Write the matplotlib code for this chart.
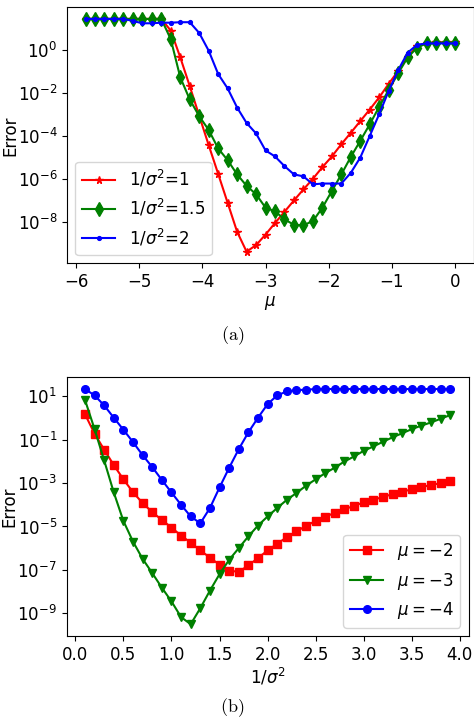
import numpy as np
import matplotlib
matplotlib.use('Agg')
import matplotlib.pyplot as plt
from matplotlib.ticker import FixedLocator, NullLocator, LogFormatterSciNotation

# (a) error vs mu, three values of 1/sigma^2
mu = np.round(np.arange(-5.85, 0.001, 0.15), 2)
err_s1 = [28.5, 28.5, 28.5, 28.5, 28.5, 28.5, 28.5, 28.5, 28.5, 8.1,
          0.46, 0.021, 8.7e-4, 3.7e-5, 1.7e-6, 7.6e-8, 3.4e-9, 4.0e-10, 8.1e-10, 2.5e-9,
          8.7e-9, 2.9e-8, 9.8e-8, 3.2e-7, 1.0e-6, 3.5e-6, 1.1e-5, 4.1e-5, 1.4e-4, 4.9e-4,
          1.7e-3, 6.3e-3, 2.7e-2, 0.107, 0.48, 1.55, 2.1, 2.3, 2.3, 2.3]
err_s15 = [28.5, 28.5, 28.5, 28.5, 28.5, 28.5, 28.5, 28.5, 28.5, 3.2,
           0.054, 5.0e-3, 8.3e-4, 1.9e-4, 2.6e-5, 7.4e-6, 1.6e-6, 4.7e-7, 1.9e-7, 4.5e-8,
           3.0e-8, 1.3e-8, 7.1e-9, 6.8e-9, 1.07e-8, 4.5e-8, 2.7e-7, 1.6e-6, 1.05e-5, 5.9e-5,
           3.5e-4, 2.3e-3, 1.4e-2, 8.3e-2, 0.46, 1.3, 2.1, 2.25, 2.25, 2.25]
err_s2 = [28.5, 28.5, 28.5, 28.5, 28.5, 22.9, 17.8, 17.8, 19.0, 19.0,
          20.0, 20.0, 6.3, 0.94, 0.077, 0.0164, 2.1e-3, 4.0e-4, 1.3e-4, 2.1e-5,
          1.1e-5, 3.9e-6, 1.6e-6, 1.3e-6, 5.5e-7, 6.0e-7, 6.0e-7, 6.0e-7, 1.9e-6, 9.8e-6,
          1.0e-4, 1.05e-3, 1.26e-2, 0.117, 0.76, 1.78, 2.05, 2.05, 2.05, 2.05]

# (b) error vs 1/sigma^2, three values of mu
inv_var = np.round(np.arange(0.1, 3.95, 0.1), 1)
err_m2 = [1.53, 0.19, 0.035, 6.8e-3, 1.5e-3, 3.8e-4, 1.2e-4, 4.6e-5, 2.0e-5, 8.9e-6,
          3.8e-6, 1.8e-6, 7.8e-7, 3.7e-7, 1.7e-7, 9.3e-8, 8.0e-8, 1.6e-7, 3.5e-7, 7.8e-7,
          1.6e-6, 3.2e-6, 5.9e-6, 1.07e-5, 1.8e-5, 2.8e-5, 4.3e-5, 6.3e-5, 8.9e-5, 1.3e-4,
          1.7e-4, 2.3e-4, 3.1e-4, 4.0e-4, 5.2e-4, 6.6e-4, 8.1e-4, 1.0e-3, 1.2e-3]
err_m3 = [7.0, 0.31, 0.0111, 3.7e-4, 1.8e-5, 2.0e-6, 3.2e-7, 7.1e-8, 1.5e-8, 3.5e-9,
          6.6e-10, 3.1e-10, 1.7e-9, 1.1e-8, 6.3e-8, 2.9e-7, 1.0e-6, 3.5e-6, 1.1e-5, 2.9e-5,
          7.1e-5, 1.7e-4, 3.5e-4, 7.6e-4, 1.5e-3, 2.9e-3, 5.2e-3, 0.01, 0.017, 0.031,
          0.049, 0.081, 0.13, 0.2, 0.31, 0.45, 0.63, 0.93, 1.38]
err_m4 = [21.9, 11.2, 3.85, 1.04, 0.29, 0.078, 0.0195, 5.5e-3, 1.4e-3, 3.7e-4,
          1.0e-4, 2.9e-5, 1.4e-5, 7.1e-5, 6.3e-4, 5.1e-3, 0.037, 0.22, 1.04, 4.4,
          11.2, 17.0, 19.5, 20.4, 21.9, 21.9, 21.9, 21.9, 21.9, 21.9,
          21.9, 21.9, 21.9, 21.9, 21.9, 21.9, 21.9, 21.9, 21.9]

plt.rcParams['font.size'] = 12

fig = plt.figure(figsize=(4.74, 7.2), dpi=100)

# top panel
ax1 = fig.add_axes([0.1414, 0.6343, 0.8576, 0.3556])
ax1.semilogy(mu, err_s1, color='r', marker='*', ms=5.5, label=r'$1/\sigma^2$=1')
ax1.semilogy(mu, err_s15, color='g', marker='d', ms=7, label=r'$1/\sigma^2$=1.5')
ax1.semilogy(mu, err_s2, color='b', marker='.', ms=5.5, label=r'$1/\sigma^2$=2')
ax1.yaxis.set_major_locator(FixedLocator([1e2, 1e0, 1e-2, 1e-4, 1e-6, 1e-8]))
ax1.yaxis.set_major_formatter(LogFormatterSciNotation())
ax1.yaxis.set_minor_locator(NullLocator())
ax1.set_xticks([-6, -5, -4, -3, -2, -1, 0])
ax1.set_xlabel(r'$\mu$', labelpad=2)
ax1.set_ylabel('Error', labelpad=-1)
ax1.legend(loc='lower left')

# bottom panel
ax2 = fig.add_axes([0.1407, 0.1167, 0.8477, 0.3593])
ax2.semilogy(inv_var, err_m2, color='r', marker='s', ms=5.5, label=r'$\mu=-2$')
ax2.semilogy(inv_var, err_m3, color='g', marker='v', ms=5.5, label=r'$\mu=-3$')
ax2.semilogy(inv_var, err_m4, color='b', marker='o', ms=5.5, label=r'$\mu=-4$')
ax2.yaxis.set_major_locator(FixedLocator([1e1, 1e-1, 1e-3, 1e-5, 1e-7, 1e-9]))
ax2.yaxis.set_major_formatter(LogFormatterSciNotation())
ax2.yaxis.set_minor_locator(NullLocator())
ax2.set_xticks(np.arange(0, 4.01, 0.5))
ax2.set_xlabel(r'$1/\sigma^2$', labelpad=2)
ax2.set_ylabel('Error', labelpad=-1)
ax2.legend(loc='lower right')

# sub-figure captions
fig.text(0.49, 1 - 336 / 720, r'$\mathrm{(a)}$', ha='center', va='center',
         fontsize=13, math_fontfamily='cm')
fig.text(0.49, 1 - 708 / 720, r'$\mathrm{(b)}$', ha='center', va='center',
         fontsize=13, math_fontfamily='cm')

fig.savefig('out.png', dpi=100)
